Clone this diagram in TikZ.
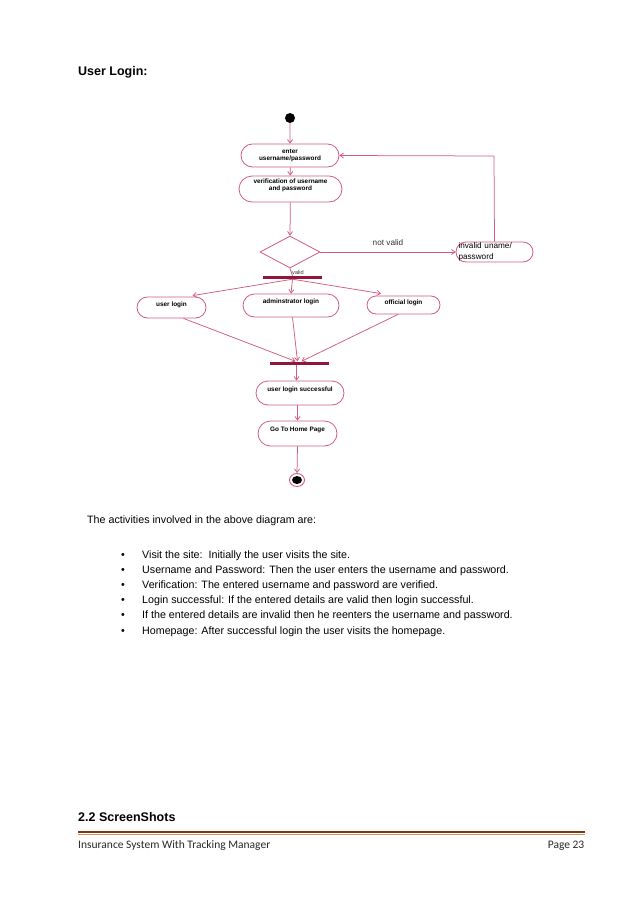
\documentclass[tikz,border=0pt]{standalone}
\usepackage{fontspec}
\setmainfont{Liberation Sans}
\newfontfamily\footfont{Carlito}
\usetikzlibrary{shapes.geometric,shapes.misc,arrows.meta}
\definecolor{umlline}{RGB}{208,92,128}
\definecolor{umlbar}{RGB}{145,22,58}
\definecolor{rulebrown}{RGB}{128,56,18}
\definecolor{rulelight}{RGB}{205,150,100}
\definecolor{foottext}{RGB}{40,40,40}
\tikzset{
  act/.style={draw=umlline, line width=0.8pt, rounded rectangle, inner sep=1pt,
    font=\bfseries\fontsize{6.4}{7.2}\selectfont, align=center},
  flow/.style={draw=umlline, line width=0.75pt, -{Straight Barb[length=3.5pt,width=5pt]}},
  plain/.style={draw=umlline, line width=0.75pt},
  syncbar/.style={fill=umlbar, draw=none, inner sep=0pt, minimum height=3pt},
  bodytext/.style={anchor=base west, inner sep=0pt, font=\fontsize{10.7}{12}\selectfont},
  bul/.style={anchor=base west, inner sep=0pt, font=\fontsize{10.7}{12}\selectfont},
}
\begin{document}
\begin{tikzpicture}[x=1pt,y=-1pt]
\useasboundingbox[fill=white] (0,0) rectangle (638,902);

\node[anchor=base west, inner sep=0pt, font=\bfseries\fontsize{12.5}{14}\selectfont] (title) at (78,75.5) {User Login:};

% diagram
\node[circle, fill=black, inner sep=0pt, minimum size=10pt] (start) at (290,118) {};
\node[act, minimum width=100pt, minimum height=23pt] (enter) at (290,155.5) {enter\\username/password};
\node[act, minimum width=105pt, minimum height=26pt] (verify) at (290.5,189) {verification of username\\and password\vphantom{p}\\[1pt]};
\node[diamond, draw=umlline, line width=0.8pt, inner sep=0pt, minimum width=60pt, minimum height=32pt, aspect=1.875] (dec) at (290,252) {};
\node[draw=umlline, line width=0.8pt, rectangle, rounded corners=10pt, inner sep=0pt, minimum width=77pt, minimum height=20pt, text width=72pt, align=left, font=\fontsize{8.2}{11}\selectfont] (invalid) at (494.5,252) {invalid uname/\\password};
\node[syncbar, minimum width=59pt] (fork) at (292.5,277.5) {};
\node[act, minimum width=71pt, minimum height=21pt, text depth=7pt] (ul) at (171.5,307.5) {user login};
\node[act, minimum width=98pt, minimum height=23pt, text depth=8pt] (adm) at (291,305.5) {adminstrator login};
\node[act, minimum width=75pt, minimum height=18pt, text depth=5pt] (off) at (403.5,305) {official login};
\node[syncbar, minimum width=59pt] (join) at (299.5,363) {};
\node[act, minimum width=90pt, minimum height=24pt, text depth=8pt] (succ) at (300,393) {user login successful};
\node[act, minimum width=81pt, minimum height=25pt, text depth=8.5pt] (home) at (297.5,433.5) {Go To Home Page};
\node[ellipse, draw=umlline, line width=0.9pt, inner sep=0pt, minimum width=15pt, minimum height=13pt] (final) at (297,480) {};
\node[ellipse, fill=black, inner sep=0pt, minimum width=10pt, minimum height=8pt] (finalin) at (final.center) {};

\coordinate (loopc) at (494,156);
\coordinate (jout) at ([xshift=-3pt]join.south);
\draw[flow] (start) -- (enter);
\draw[flow] (enter) -- (verify);
\draw[flow] (verify) -- (dec.north);
\draw[flow] (dec.east) -- node[above=3pt, font=\fontsize{8.2}{9}\selectfont, text=black!80] (nv) {not valid} (invalid.west);
\draw[plain] (invalid.north) -- (loopc);
\draw[flow] (loopc) -- (enter.east);
\draw[plain] (dec.south) -- (fork.north);
\node[anchor=west, inner sep=0pt, font=\fontsize{5.6}{6}\selectfont, text=black!80] (validlbl) at (292,272.5) {valid};
\draw[flow] (fork.south) -- ([xshift=-3pt,yshift=1pt]ul.north east);
\draw[flow] (fork.south) -- (adm.north);
\draw[flow] (fork.south) -- ([xshift=5pt,yshift=2pt]off.north west);
\draw[flow] ([xshift=-12pt]ul.south east) -- ([xshift=-4pt]join.north);
\draw[flow] ([xshift=1.5pt]adm.south) -- ([xshift=-2pt]join.north);
\draw[flow] ([xshift=22pt]off.south west) -- ([xshift=2pt]join.north);
\draw[flow] (jout) -- (succ.north -| jout);
\draw[flow] (succ.south -| home.north) -- (home.north);
\draw[flow] (home.south) -- (final.north);

% text
\node[bodytext] (intro) at (87,523) {The activities involved in the above diagram are:};
\foreach \y/\t [count=\i] in {558/{Visit the site:\ \ Initially the user visits the site.},
  573/{Username and Password: Then the user enters the username and password.},
  588/{Verification: The entered username and password are verified.},
  603/{Login successful: If the entered details are valid then login successful.},
  618/{If the entered details are invalid then he reenters the username and password.},
  634/{Homepage: After successful login the user visits the homepage.}}{
  \node[bul] (b\i) at (121,\y) {\textbullet};
  \node[bodytext] (t\i) at (142,\y) {\t};
}

\node[anchor=base west, inner sep=0pt, font=\bfseries\fontsize{12.5}{14}\selectfont] (sec) at (78,821.5) {2.2 ScreenShots};
\coordinate (rl) at (78,831.8);
\coordinate (rr) at (585,831.8);
\draw[rulebrown, line width=2.6pt] (rl) -- (rr);
\coordinate (rl2) at (78,834.6);
\coordinate (rr2) at (585,834.6);
\draw[rulelight, line width=1pt] (rl2) -- (rr2);
\node[anchor=base west, inner sep=0pt, text=foottext, font=\footfont\fontsize{11.5}{13}\selectfont] (foot) at (78,848) {Insurance System With Tracking Manager};
\node[anchor=base east, inner sep=0pt, text=foottext, font=\footfont\fontsize{11.5}{13}\selectfont] (page) at (584.5,848) {Page 23};
\end{tikzpicture}
\end{document}
